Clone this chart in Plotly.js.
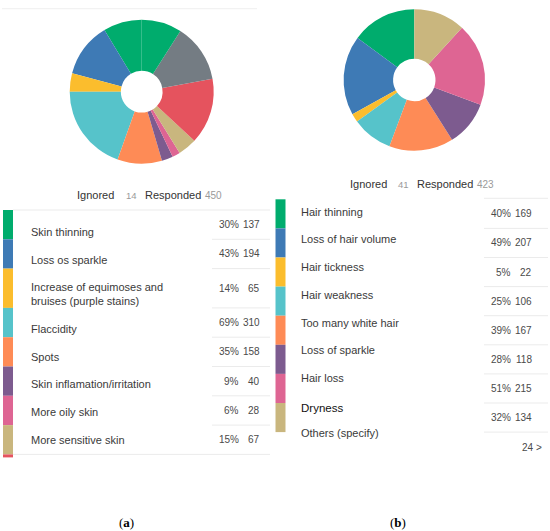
<!DOCTYPE html>
<html>
<head>
<meta charset="utf-8">
<script src="https://cdn.plot.ly/plotly-3.0.1.min.js"></script>
<style>html,body{margin:0;padding:0;background:#fff;}#chart{width:550px;height:531px;}</style>
</head>
<body>
<div id="chart"></div>
<script>
// ---------- data: panel (a) skin ----------
const skinLabels = ['Skin thinning', 'Loss os sparkle', 'Increase of equimoses and<br>bruises (purple stains)', 'Flaccidity', 'Spots', 'Skin inflamation/irritation', 'More oily skin', 'More sensitive skin'];
const skinPercents = ['30%', '43%', '14%', '69%', '35%', '9%', '6%', '15%'];
const skinCounts = [137, 194, 65, 310, 158, 40, 28, 67];
// rows below the visible part of the list (only their pie slices are visible)
const skinHiddenLabels = ['row 9 (cut off)', 'row 10 (cut off)', 'row 11 (cut off)'];
const skinHiddenCounts = [235, 207, 143];
const skinIgnored = 14;
const skinResponded = 450;

// ---------- data: panel (b) hair ----------
const hairLabels = ['Hair thinning', 'Loss of hair volume', 'Hair tickness', 'Hair weakness', 'Too many white hair', 'Loss of sparkle', 'Hair loss', 'Dryness'];
const hairPercents = ['40%', '49%', '5%', '25%', '39%', '28%', '51%', '32%'];
const hairCounts = [169, 207, 22, 106, 167, 118, 215, 134];
const hairOtherLabel = 'Others (specify)';
const hairOtherCount = 24;
const hairIgnored = 41;
const hairResponded = 423;

const panelLabels = ['(<b>a</b>)', '(<b>b</b>)'];

// ---------- styles ----------
const palette = ['#00AC6D', '#3E7AB5', '#FBBD2D', '#56C3CA', '#FE8B56', '#7D5B8F', '#DE6593', '#C9B67E', '#E5535E', '#747C83', '#00AC6D'];
const W = 550, H = 531;
const X = px => px / W;
const Y = py => 1 - py / H;
const SANS = 'Liberation Sans, Arial, sans-serif';
const SERIF = 'Liberation Serif, Times New Roman, serif';
const LABEL_C = '#3a3a3a', NUM_C = '#4a4a4a', LIGHT_C = '#9a9a9a', SEP_C = '#ebebeb';

const annotations = [];
const shapes = [];
function txt(x, y, text, opts) {
  annotations.push(Object.assign({
    xref: 'paper', yref: 'paper', x: X(x), y: Y(y), text: text, showarrow: false,
    xanchor: 'left', yanchor: 'middle', align: 'left',
    font: {family: SANS, size: 11, color: LABEL_C}
  }, opts || {}));
}
function rect(x0, y0, x1, y1, color) {
  shapes.push({type: 'rect', xref: 'paper', yref: 'paper', x0: X(x0), x1: X(x1), y0: Y(y1), y1: Y(y0),
    fillcolor: color, line: {width: 0}, layer: 'below'});
}
function hline(x0, x1, y, color) {
  shapes.push({type: 'line', xref: 'paper', yref: 'paper', x0: X(x0), x1: X(x1), y0: Y(y), y1: Y(y),
    line: {color: color || SEP_C, width: 1}, layer: 'below'});
}
const sum = a => a.reduce((s, v) => s + v, 0);

// ---------- pies (first slice starts at 12 o'clock, going counterclockwise) ----------
const skinAllLabels = skinLabels.concat(skinHiddenLabels);
const skinAllCounts = skinCounts.concat(skinHiddenCounts);
const traces = [
  {
    type: 'pie', labels: skinAllLabels, values: skinAllCounts, sort: false,
    direction: 'counterclockwise', rotation: -360 * skinAllCounts[0] / sum(skinAllCounts), hole: 0.29, textinfo: 'none',
    marker: {colors: palette.slice(0, skinAllCounts.length), line: {width: 0}},
    domain: {x: [X(69.7), X(213.7)], y: [Y(163.7), Y(19.7)]}, showlegend: false, hoverinfo: 'label+value'
  },
  {
    type: 'pie', labels: hairLabels, values: hairCounts, sort: false,
    direction: 'counterclockwise', rotation: -360 * hairCounts[0] / sum(hairCounts), hole: 0.3, textinfo: 'none',
    marker: {colors: palette.slice(0, hairCounts.length), line: {width: 0}},
    domain: {x: [X(343.6), X(485)], y: [Y(150.7), Y(9.3)]}, showlegend: false, hoverinfo: 'label+value'
  }
];

// ---------- panel (a) table ----------
hline(2, 257, 8.7, '#efefef');
txt(75, 195, 'Ignored', {font: {family: SANS, size: 11, color: '#333'}});
txt(124, 195.5, String(skinIgnored), {font: {family: SANS, size: 9.5, color: LIGHT_C}});
txt(143, 195, 'Responded', {font: {family: SANS, size: 11, color: '#333'}});
txt(203, 195.5, String(skinResponded), {font: {family: SANS, size: 10, color: LIGHT_C}});

(function () {
  const rowH1 = 29.3, rowH2 = 39.3;
  let top = 210;
  let twoBefore = 0;
  hline(13, 270, top);
  skinLabels.forEach((lab, i) => {
    const two = lab.indexOf('<br>') >= 0;
    const h = two ? rowH2 : rowH1;
    rect(3, top, 13, top + h, palette[i]);
    const ly = 231.7 + 27.85 * i + 13.4 * twoBefore + (two ? 6.7 : 0);
    txt(29, ly, lab, {font: {family: SANS, size: 11, color: LABEL_C}});
    const ny = top + h / 2;
    txt(240.5, ny, skinPercents[i], {xanchor: 'right', align: 'right', font: {family: SANS, size: 10, color: NUM_C}});
    txt(262, ny, String(skinCounts[i]), {xanchor: 'right', align: 'right', font: {family: SANS, size: 10, color: NUM_C}});
    top += h;
    if (two) twoBefore++;
    if (i < skinLabels.length - 1) hline(212, 270, top); else hline(13, 270, top);
  });
  // start of next (cut-off) row
  rect(3, top, 13, top + 3, palette[skinLabels.length]);
})();

// ---------- panel (b) table ----------
txt(348, 184.3, 'Ignored', {font: {family: SANS, size: 11, color: '#333'}});
txt(396, 184.8, String(hairIgnored), {font: {family: SANS, size: 9.5, color: LIGHT_C}});
txt(414.5, 184.3, 'Responded', {font: {family: SANS, size: 11, color: '#333'}});
txt(475, 184.8, String(hairResponded), {font: {family: SANS, size: 10, color: LIGHT_C}});

(function () {
  const rowH = 29.1;
  let top = 199.3;
  hline(484, 548, 198.3);
  hairLabels.forEach((lab, i) => {
    rect(275.5, top, 285.5, top + rowH, palette[i]);
    const last = i === hairLabels.length - 1;
    const ly = 211.7 + 27.7 * i + (last ? 2.7 : 0);
    txt(298.5, ly, lab, {font: {family: SANS, size: last ? 11.5 : 11, color: last ? '#111' : LABEL_C}});
    const ny = top + rowH / 2;
    txt(512.8, ny, hairPercents[i], {xanchor: 'right', align: 'right', font: {family: SANS, size: 10, color: NUM_C}});
    txt(534, ny, String(hairCounts[i]), {xanchor: 'right', align: 'right', font: {family: SANS, size: 10, color: NUM_C}});
    top += rowH;
    hline(484, 548, top);
  });
  txt(298.5, 211.7 + 27.7 * hairLabels.length, hairOtherLabel, {font: {family: SANS, size: 11, color: LABEL_C}});
  txt(544, top + 15, hairOtherCount + ' &gt;', {xanchor: 'right', align: 'right', font: {family: SANS, size: 10, color: NUM_C}});
})();

// ---------- panel captions ----------
txt(126.7, 522.7, panelLabels[0], {xanchor: 'center', font: {family: SERIF, size: 13, color: '#000'}});
txt(397.7, 522.7, panelLabels[1], {xanchor: 'center', font: {family: SERIF, size: 13, color: '#000'}});

const layout = {
  width: W, height: H, margin: {l: 0, r: 0, t: 0, b: 0},
  paper_bgcolor: '#ffffff', plot_bgcolor: '#ffffff',
  showlegend: false, annotations: annotations, shapes: shapes
};
Plotly.newPlot('chart', traces, layout, {displayModeBar: false, staticPlot: true});
</script>
</body>
</html>
